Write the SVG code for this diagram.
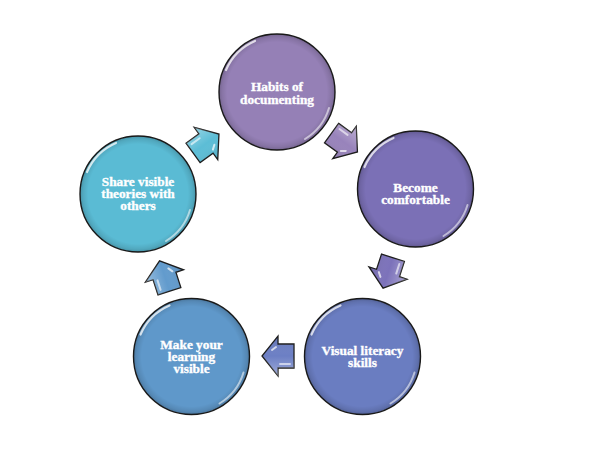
<svg xmlns="http://www.w3.org/2000/svg" xmlns:xlink="http://www.w3.org/1999/xlink" width="609" height="450" viewBox="0 0 609 450">
<style>
.node{stroke:#1c1c1c;stroke-width:1.4}
.lbl{font-family:"Liberation Serif","Times New Roman",serif;font-weight:bold;font-size:13.3px;fill:#ffffff;stroke:#ffffff;stroke-width:0.35;text-anchor:middle}
.arr{stroke:#1c1c1c;stroke-width:1.3;stroke-linejoin:miter}
</style>
<defs>
<radialGradient id="edge" cx="0.5" cy="0.5" r="0.5">
<stop offset="0.86" stop-color="#000" stop-opacity="0"/>
<stop offset="0.95" stop-color="#000" stop-opacity="0.10"/>
<stop offset="1" stop-color="#000" stop-opacity="0.22"/>
</radialGradient>
<linearGradient id="agl" x1="0" y1="0" x2="0" y2="1">
<stop offset="0" stop-color="#fff" stop-opacity="0.35"/>
<stop offset="0.5" stop-color="#fff" stop-opacity="0"/>
<stop offset="1" stop-color="#000" stop-opacity="0.12"/>
</linearGradient>
<g id="gloss">
<circle r="58" fill="url(#edge)"/>
<path d="M -51 -22 A 55.5 55.5 0 0 1 -22 -51" fill="none" stroke="#fff" stroke-opacity="0.75" stroke-width="2.2" stroke-linecap="round"/>
<path d="M 52 16 A 54.5 54.5 0 0 1 28 47" fill="none" stroke="#fff" stroke-opacity="0.55" stroke-width="2" stroke-linecap="round"/>
</g>
<path id="arrow" d="M -16 -12 L 0 -12 L 0 -20 L 16 0 L 0 20 L 0 12 L -16 12 Z"/>
<g id="aglint">
<path d="M -12 -8 L -2 -8" stroke="#fff" stroke-opacity="0.6" stroke-width="2" stroke-linecap="round" fill="none"/>
<path d="M 2 9 L 6 6" stroke="#fff" stroke-opacity="0.7" stroke-width="2" stroke-linecap="round" fill="none"/>
</g>
</defs>
<rect width="609" height="450" fill="#ffffff"/>
<g id="connectors">
<g transform="translate(344.5,142.5) rotate(36)">
<use xlink:href="#arrow" class="arr" fill="#9883bb"/>
<use xlink:href="#arrow" fill="url(#agl)"/>
<use xlink:href="#aglint"/>
</g>
<g transform="translate(388,273) rotate(108)">
<use xlink:href="#arrow" class="arr" fill="#7c72ba"/>
<use xlink:href="#arrow" fill="url(#agl)"/>
<use xlink:href="#aglint"/>
</g>
<g transform="translate(278,356) rotate(180)">
<use xlink:href="#arrow" class="arr" fill="#6c7fc4"/>
<use xlink:href="#arrow" fill="url(#agl)"/>
<use xlink:href="#aglint"/>
</g>
<g transform="translate(164.5,276) rotate(-108)">
<use xlink:href="#arrow" class="arr" fill="#629bcd"/>
<use xlink:href="#arrow" fill="url(#agl)"/>
<use xlink:href="#aglint"/>
</g>
<g transform="translate(206,143.5) rotate(-36)">
<use xlink:href="#arrow" class="arr" fill="#5cbdd6"/>
<use xlink:href="#arrow" fill="url(#agl)"/>
<use xlink:href="#aglint"/>
</g>
</g>
<g id="node-habits">
<circle cx="277" cy="92" r="58" class="node" fill="#9580b6"/>
<use xlink:href="#gloss" x="277" y="92"/>
<text class="lbl" x="277" y="91">Habits of</text>
<text class="lbl" x="277" y="103.5">documenting</text>
</g>
<g id="node-comfortable">
<circle cx="415.5" cy="189" r="58" class="node" fill="#7b70b6"/>
<use xlink:href="#gloss" x="415.5" y="189"/>
<text class="lbl" x="415.5" y="191.5">Become</text>
<text class="lbl" x="415.5" y="203.5">comfortable</text>
</g>
<g id="node-visual">
<circle cx="362.5" cy="356.5" r="58" class="node" fill="#6a7dc1"/>
<use xlink:href="#gloss" x="362.5" y="356.5"/>
<text class="lbl" x="362.5" y="355">Visual literacy</text>
<text class="lbl" x="362.5" y="367">skills</text>
</g>
<g id="node-make">
<circle cx="191.5" cy="356.5" r="58" class="node" fill="#5f98ca"/>
<use xlink:href="#gloss" x="191.5" y="356.5"/>
<text class="lbl" x="191.5" y="349">Make your</text>
<text class="lbl" x="191.5" y="361">learning</text>
<text class="lbl" x="191.5" y="373">visible</text>
</g>
<g id="node-share">
<circle cx="138" cy="194" r="58" class="node" fill="#5abbd4"/>
<use xlink:href="#gloss" x="138" y="194"/>
<text class="lbl" x="138" y="186">Share visible</text>
<text class="lbl" x="138" y="198">theories with</text>
<text class="lbl" x="138" y="210">others</text>
</g>
</svg>
